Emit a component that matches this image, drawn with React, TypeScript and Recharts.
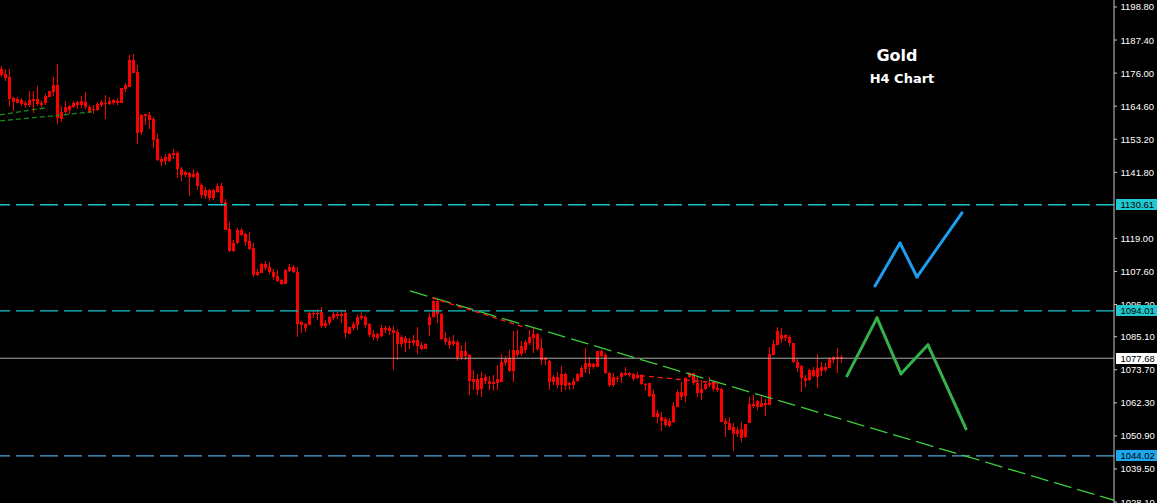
import React from 'react';
import { ComposedChart, Bar, XAxis, YAxis, ReferenceLine } from 'recharts';

// ---- candle data (H4 Gold), index 0..210 ----
const high = [
  1178.5, 1177.3, 1177.4, 1167.9, 1167.7, 1167.3, 1166.5, 1169.7, 1169.7, 1171.6,
  1166.5, 1168.8, 1169.7, 1174.5, 1179.1, 1164.7, 1166.3, 1165.0, 1166.3, 1166.3,
  1168.1, 1169.5, 1164.9, 1164.9, 1166.0, 1166.7, 1168.3, 1167.9, 1167.2, 1167.4,
  1170.9, 1172.7, 1182.4, 1182.6, 1178.7, 1161.9, 1161.9, 1162.6, 1161.0, 1155.0,
  1147.4, 1148.1, 1148.3, 1149.8, 1149.1, 1143.7, 1142.4, 1141.9, 1142.9, 1142.3,
  1138.0, 1136.8, 1136.2, 1135.9, 1138.1, 1138.0, 1132.5, 1124.8, 1118.5, 1122.5,
  1122.7, 1120.8, 1121.3, 1117.3, 1108.3, 1110.4, 1111.1, 1110.9, 1108.6, 1108.1,
  1105.1, 1108.3, 1110.1, 1109.8, 1109.0, 1090.5, 1090.0, 1093.5, 1094.3, 1094.7,
  1095.4, 1090.9, 1092.4, 1093.5, 1093.5, 1094.3, 1094.3, 1088.6, 1090.1, 1092.9,
  1093.5, 1092.6, 1090.0, 1087.4, 1086.3, 1089.1, 1088.7, 1088.7, 1088.8, 1087.8,
  1085.6, 1085.2, 1084.5, 1085.7, 1088.5, 1083.3, 1082.8, 1093.2, 1097.8, 1097.8,
  1093.2, 1086.8, 1085.1, 1085.7, 1084.0, 1082.2, 1083.4, 1079.0, 1073.6, 1072.1,
  1073.1, 1072.2, 1071.6, 1071.9, 1075.4, 1079.0, 1078.5, 1080.5, 1087.1, 1087.4,
  1083.7, 1084.0, 1087.4, 1088.0, 1086.5, 1084.5, 1078.2, 1077.1, 1071.9, 1072.8,
  1075.1, 1072.5, 1069.6, 1070.8, 1072.5, 1075.0, 1081.1, 1078.2, 1075.9, 1080.3,
  1080.8, 1079.4, 1073.1, 1072.5, 1071.6, 1072.8, 1074.8, 1073.1, 1072.5, 1073.1,
  1072.1, 1069.0, 1069.0, 1066.7, 1059.8, 1059.3, 1057.5, 1057.2, 1062.7, 1066.7,
  1069.6, 1071.3, 1073.1, 1072.7, 1071.1, 1070.2, 1069.6, 1071.1, 1069.9, 1069.6,
  1067.3, 1057.0, 1057.3, 1055.5, 1053.9, 1055.8, 1055.0, 1064.4, 1065.0, 1063.3,
  1064.7, 1063.5, 1081.7, 1084.0, 1088.6, 1088.0, 1086.0, 1085.7, 1083.1, 1077.3,
  1075.4, 1071.9, 1073.9, 1074.8, 1079.1, 1076.3, 1076.2, 1078.0, 1078.5, 1081.1,
  1078.8,
];
const bodyHi = [
  1177.4, 1175.7, 1174.5, 1167.4, 1167.0, 1166.7, 1165.8, 1166.7, 1167.2, 1167.2,
  1165.8, 1168.1, 1169.7, 1171.9, 1171.9, 1162.6, 1164.2, 1164.7, 1165.8, 1165.9,
  1166.3, 1166.0, 1164.4, 1163.7, 1165.4, 1166.0, 1165.8, 1166.3, 1166.7, 1166.5,
  1170.9, 1171.8, 1180.5, 1180.5, 1176.4, 1161.6, 1161.9, 1161.6, 1160.2, 1153.3,
  1146.5, 1147.2, 1148.1, 1148.6, 1148.6, 1143.1, 1141.8, 1141.7, 1141.2, 1141.4,
  1137.4, 1135.8, 1135.8, 1135.7, 1137.2, 1137.2, 1131.7, 1122.3, 1117.5, 1121.9,
  1121.9, 1120.4, 1118.1, 1115.8, 1107.5, 1110.2, 1110.2, 1109.3, 1107.4, 1106.0,
  1104.7, 1108.1, 1109.1, 1109.1, 1107.3, 1090.2, 1089.5, 1093.4, 1093.4, 1093.4,
  1093.6, 1089.7, 1092.0, 1092.9, 1092.9, 1092.9, 1093.2, 1088.6, 1089.6, 1091.9,
  1092.1, 1091.9, 1089.6, 1086.0, 1086.0, 1088.2, 1088.0, 1088.0, 1087.5, 1086.6,
  1085.1, 1084.7, 1083.5, 1084.1, 1083.9, 1082.4, 1082.6, 1092.0, 1097.5, 1097.5,
  1092.9, 1084.8, 1083.7, 1083.7, 1083.4, 1080.2, 1080.2, 1078.8, 1070.4, 1070.6,
  1070.9, 1071.2, 1070.0, 1069.6, 1070.5, 1076.5, 1077.3, 1077.6, 1080.5, 1080.5,
  1082.0, 1083.4, 1085.1, 1085.9, 1085.9, 1081.3, 1077.6, 1076.8, 1071.3, 1071.1,
  1072.2, 1072.2, 1069.0, 1070.0, 1072.1, 1074.2, 1076.2, 1076.2, 1075.7, 1080.2,
  1080.3, 1078.8, 1072.7, 1071.1, 1071.0, 1072.5, 1072.5, 1072.5, 1072.2, 1071.8,
  1071.9, 1068.8, 1069.0, 1065.2, 1058.7, 1057.5, 1056.6, 1056.2, 1061.2, 1066.2,
  1066.2, 1070.8, 1072.5, 1072.5, 1069.3, 1067.1, 1068.8, 1069.0, 1069.0, 1067.5,
  1067.0, 1056.2, 1055.5, 1054.1, 1052.9, 1053.2, 1055.0, 1061.9, 1061.9, 1063.1,
  1062.4, 1062.4, 1079.1, 1082.6, 1087.2, 1085.7, 1085.7, 1085.1, 1083.1, 1076.5,
  1075.0, 1070.8, 1073.6, 1073.6, 1074.2, 1074.5, 1074.8, 1077.3, 1078.0, 1078.0,
  1078.0,
];
const bodyLo = [
  1175.4, 1174.3, 1167.2, 1166.0, 1165.8, 1165.4, 1165.1, 1165.1, 1166.5, 1165.4,
  1165.1, 1165.6, 1167.9, 1169.6, 1160.4, 1160.3, 1162.6, 1163.3, 1164.4, 1165.1,
  1165.1, 1164.2, 1162.6, 1163.3, 1163.3, 1165.1, 1165.4, 1165.4, 1165.6, 1165.8,
  1165.8, 1170.4, 1171.3, 1176.2, 1155.5, 1155.8, 1161.2, 1159.8, 1152.9, 1146.0,
  1145.4, 1145.7, 1145.7, 1147.7, 1142.8, 1140.9, 1140.8, 1140.3, 1140.1, 1137.2,
  1134.0, 1133.7, 1132.8, 1132.8, 1134.9, 1131.3, 1121.9, 1114.8, 1114.8, 1117.5,
  1120.2, 1117.7, 1115.4, 1106.4, 1106.4, 1107.2, 1108.7, 1107.3, 1105.8, 1104.4,
  1103.3, 1103.4, 1107.8, 1107.3, 1089.5, 1089.1, 1088.2, 1089.1, 1092.8, 1092.8,
  1088.8, 1088.8, 1089.7, 1091.4, 1092.3, 1092.1, 1086.5, 1086.0, 1088.2, 1089.3,
  1091.7, 1089.1, 1085.7, 1085.1, 1084.8, 1085.5, 1087.4, 1087.1, 1086.5, 1082.5,
  1082.7, 1082.8, 1082.9, 1083.1, 1081.9, 1081.0, 1081.0, 1089.1, 1092.0, 1092.9,
  1084.2, 1083.2, 1082.2, 1082.6, 1077.7, 1078.2, 1078.6, 1070.0, 1069.6, 1066.7,
  1067.0, 1069.7, 1068.8, 1068.9, 1069.0, 1069.6, 1076.2, 1073.3, 1073.3, 1078.8,
  1079.0, 1080.5, 1082.8, 1084.5, 1080.9, 1077.1, 1077.1, 1069.6, 1069.6, 1068.5,
  1068.5, 1068.2, 1068.5, 1068.5, 1069.8, 1071.3, 1073.9, 1074.5, 1074.8, 1074.8,
  1078.6, 1072.5, 1068.5, 1068.5, 1070.4, 1071.3, 1071.8, 1071.8, 1070.5, 1070.8,
  1068.8, 1068.5, 1064.8, 1057.5, 1057.3, 1056.2, 1054.7, 1054.3, 1055.8, 1061.0,
  1064.2, 1064.7, 1071.3, 1069.0, 1065.6, 1065.6, 1067.0, 1068.5, 1067.0, 1066.7,
  1055.8, 1055.0, 1052.9, 1051.6, 1051.6, 1050.3, 1050.4, 1055.5, 1061.2, 1060.8,
  1061.0, 1061.6, 1061.6, 1078.8, 1082.3, 1084.3, 1084.5, 1083.1, 1076.5, 1074.4,
  1070.8, 1069.8, 1070.2, 1071.6, 1071.3, 1073.4, 1073.6, 1074.2, 1077.1, 1077.3,
  1077.3,
];
const low = [
  1174.8, 1173.4, 1164.7, 1162.9, 1165.6, 1164.8, 1164.1, 1164.4, 1162.4, 1164.7,
  1164.4, 1165.0, 1167.7, 1168.1, 1158.5, 1159.3, 1162.1, 1162.0, 1164.0, 1163.7,
  1164.0, 1163.5, 1162.4, 1161.9, 1162.8, 1164.2, 1160.1, 1164.9, 1165.1, 1164.9,
  1165.8, 1169.5, 1171.1, 1175.9, 1151.6, 1154.7, 1158.1, 1156.7, 1150.3, 1145.7,
  1144.1, 1144.3, 1145.5, 1146.3, 1140.0, 1138.8, 1140.3, 1133.7, 1139.7, 1135.7,
  1132.8, 1132.5, 1132.0, 1132.3, 1134.5, 1130.3, 1121.9, 1114.2, 1114.4, 1117.1,
  1119.8, 1116.5, 1115.0, 1105.8, 1106.2, 1107.0, 1108.1, 1106.8, 1104.7, 1104.1,
  1102.8, 1103.3, 1107.5, 1107.0, 1085.1, 1086.3, 1086.8, 1089.0, 1091.4, 1090.9,
  1088.0, 1088.0, 1089.1, 1090.9, 1091.1, 1089.7, 1084.8, 1085.9, 1087.4, 1087.4,
  1090.8, 1088.0, 1085.1, 1084.0, 1083.6, 1085.1, 1086.3, 1085.7, 1073.6, 1077.1,
  1081.7, 1080.0, 1080.8, 1081.9, 1079.3, 1080.5, 1080.9, 1085.5, 1091.4, 1089.7,
  1084.0, 1082.2, 1080.9, 1082.0, 1076.7, 1077.1, 1077.1, 1065.0, 1066.7, 1065.0,
  1064.4, 1068.7, 1066.7, 1066.5, 1066.7, 1069.5, 1075.0, 1073.1, 1069.4, 1078.2,
  1078.5, 1079.4, 1082.2, 1079.4, 1080.2, 1075.4, 1075.4, 1066.7, 1068.5, 1067.3,
  1066.2, 1066.7, 1066.7, 1067.0, 1069.6, 1071.1, 1072.5, 1072.1, 1073.9, 1074.5,
  1078.2, 1072.1, 1067.9, 1067.9, 1069.6, 1069.3, 1071.6, 1071.3, 1069.8, 1070.4,
  1068.5, 1066.5, 1064.4, 1057.5, 1055.2, 1052.6, 1054.1, 1054.1, 1055.5, 1061.0,
  1063.3, 1062.7, 1070.8, 1068.5, 1064.4, 1063.3, 1066.7, 1067.9, 1066.4, 1066.2,
  1055.8, 1050.4, 1052.9, 1045.8, 1050.4, 1048.9, 1050.3, 1055.5, 1060.4, 1059.8,
  1060.8, 1057.9, 1061.6, 1078.8, 1082.3, 1082.8, 1083.7, 1081.9, 1075.9, 1073.1,
  1066.2, 1067.9, 1070.0, 1071.3, 1067.3, 1071.6, 1073.1, 1074.2, 1076.2, 1072.7,
  1076.2,
];

// ---- axis ticks and price markers ----
const axisTicks = [
  1198.8, 1187.4, 1176.0, 1164.6, 1153.2, 1141.8, 1119.0, 1107.6, 1096.2,
  1085.1, 1073.7, 1062.3, 1050.9, 1039.5, 1028.1,
];
const markerValues = [1130.61, 1094.01, 1077.68, 1044.02];
const markerFill = ['#20c8cf', '#20c8cf', '#ffffff', '#1ca8ee'];

const cyanLevels = [1130.61, 1094.01];
const lowerLevel = 1044.02;
const lastPrice = 1077.68;

// ---- drawn objects (x in bar index units, y in price) ----
const trendX = [102, 278];
const trendY = [1100.9, 1028.7];
const redTrendAX = [107.5, 131.3];
const redTrendAY = [1098.5, 1088.1];
const redTrendBX = [159.5, 179];
const redTrendBY = [1071.7, 1069.1];
const oldTrendAX = [-0.5, 10.75];
const oldTrendAY = [1161.6, 1164.0];
const oldTrendBX = [-0.5, 22.5];
const oldTrendBY = [1159.5, 1162.6];
const bullPathX = [218.25, 224.5, 228.75, 240];
const bullPathY = [1102.6, 1117.4, 1105.7, 1127.8];
const bearPathX = [211.25, 218.75, 224.75, 231.5, 241];
const bearPathY = [1071.6, 1091.6, 1072.3, 1082.3, 1053.3];

const SLOTS = 278;
const Y_DOMAIN: [number, number] = [1027.76, 1201.21];

const data = Array.from({ length: SLOTS }, (_, i) =>
  i < high.length
    ? { i, range: [low[i], high[i]], high: high[i], low: low[i], bodyHi: bodyHi[i], bodyLo: bodyLo[i] }
    : { i, range: null as any }
);

const CANDLE = '#ff0000';

const Candle = (props: any) => {
  const { x, y, width, height, payload } = props;
  if (!payload || payload.high == null || !isFinite(x) || !isFinite(y) || !isFinite(height)) return <g />;
  const span = payload.high - payload.low;
  const k = span > 0 ? height / span : 0;
  const cx = Math.floor(x + width / 2);
  const yTop = y + (payload.high - payload.bodyHi) * k;
  const yBot = y + (payload.high - payload.bodyLo) * k;
  return (
    <g shapeRendering="crispEdges">
      <rect x={cx} y={y} width={1} height={Math.max(1, height)} fill={CANDLE} />
      <rect x={cx - 1} y={yTop} width={3} height={Math.max(1, yBot - yTop)} fill={CANDLE} />
    </g>
  );
};

const TICK_FONT = "'Liberation Sans', Arial, sans-serif";

const AxisTick = (props: any) => {
  const { x, y, payload } = props;
  const v = Number(payload.value);
  const mi = markerValues.indexOf(v);
  const label = v.toFixed(2);
  if (mi >= 0) {
    return (
      <g>
        <rect x={x + 2} y={y - 5.5} width={41} height={11} fill={markerFill[mi]} shapeRendering="crispEdges" />
        <text x={x + 6.5} y={y + 3.5} fill="#000" fontSize={9.5} fontFamily={TICK_FONT}>{label}</text>
      </g>
    );
  }
  return (
    <g>
      <line x1={x} x2={x + 3} y1={y} y2={y} stroke="#c8c8c8" strokeWidth={1} />
      <text x={x + 6.5} y={y + 3.5} fill="#fff" fontSize={9.5} fontFamily={TICK_FONT}>{label}</text>
    </g>
  );
};

function segs(xs: number[], ys: number[]) {
  const out: { a: { x: number; y: number }; b: { x: number; y: number } }[] = [];
  for (let k = 0; k < xs.length - 1; k++) {
    out.push({ a: { x: xs[k], y: ys[k] }, b: { x: xs[k + 1], y: ys[k + 1] } });
  }
  return out;
}

export default function App() {
  const seg = (xs: number[], ys: number[], key: string, style: any) =>
    segs(xs, ys).map((s, k) => (
      <ReferenceLine
        key={key + k}
        xAxisId="n"
        segment={[s.a, s.b]}
        ifOverflow="hidden"
        {...style}
      />
    ));

  return (
    <div style={{ position: 'fixed', left: 0, top: 0, width: 1157, height: 503, background: '#000', overflow: 'hidden' }}>
      <ComposedChart width={1157} height={503} data={data} margin={{ top: 0, right: 0, bottom: 0, left: 0 }}>
        <XAxis xAxisId="c" dataKey="i" type="category" hide padding={{ left: 0, right: 2 }} />
        <XAxis xAxisId="n" dataKey="i" type="number" domain={[-0.5, 278]} allowDataOverflow hide />
        <YAxis
          orientation="right"
          width={43}
          domain={Y_DOMAIN}
          allowDataOverflow
          ticks={[...axisTicks, ...markerValues]}
          interval={0}
          tickSize={0}
          tickMargin={0}
          tickLine={false}
          axisLine={{ stroke: '#c8c8c8' }}
          tick={AxisTick}
        />
        {cyanLevels.map((v) => (
          <ReferenceLine key={'c' + v} y={v} xAxisId="n" stroke="#14c4cc" strokeDasharray="18 6" strokeWidth={1.3} />
        ))}
        <ReferenceLine y={lowerLevel} xAxisId="n" stroke="#4aa6d6" strokeDasharray="18 6" strokeWidth={1.2} />
        <ReferenceLine y={lastPrice} xAxisId="n" stroke="#a8a8a8" strokeWidth={1} />
        {seg(oldTrendAX, oldTrendAY, 'oa', { stroke: '#1a8c1a', strokeDasharray: '5 3', strokeWidth: 1.3 })}
        {seg(oldTrendBX, oldTrendBY, 'ob', { stroke: '#1a8c1a', strokeDasharray: '5 3', strokeWidth: 1.3 })}
        {seg(trendX, trendY, 'tr', { stroke: '#3ccc3c', strokeDasharray: '18 6', strokeWidth: 1.3 })}
        {seg(redTrendAX, redTrendAY, 'ra', { stroke: '#ff1a1a', strokeDasharray: '5 4', strokeWidth: 1.3 })}
        {seg(redTrendBX, redTrendBY, 'rb', { stroke: '#ff1a1a', strokeDasharray: '5 4', strokeWidth: 1.3 })}
        <Bar xAxisId="c" dataKey="range" barSize={4} shape={Candle} isAnimationActive={false} />
        {seg(bullPathX, bullPathY, 'bu', { stroke: '#1e9cee', strokeWidth: 3, strokeLinecap: 'round' })}
        {seg(bearPathX, bearPathY, 'be', { stroke: '#36b04a', strokeWidth: 3, strokeLinecap: 'round' })}
      </ComposedChart>
      <svg width={1157} height={503} style={{ position: 'absolute', left: 0, top: 0, pointerEvents: 'none' }}>
        <text x={897} y={61} textAnchor="middle" fill="#fff" fontFamily="'DejaVu Sans', sans-serif" fontWeight="bold" fontSize={16}>Gold</text>
        <text x={902} y={83} textAnchor="middle" fill="#fff" fontFamily="'DejaVu Sans', sans-serif" fontWeight="bold" fontSize={13}>H4 Chart</text>
      </svg>
    </div>
  );
}
